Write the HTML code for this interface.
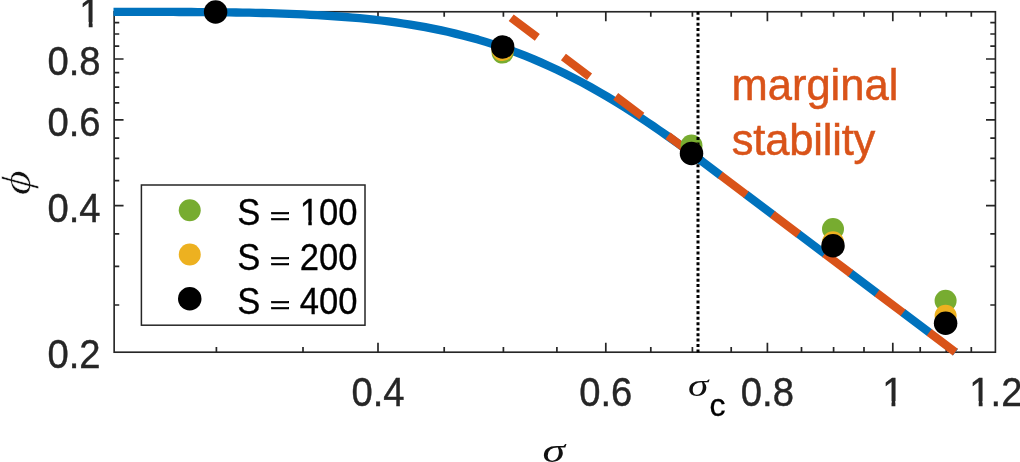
<!DOCTYPE html>
<html><head><meta charset="utf-8"><title>phi vs sigma</title>
<style>
html,body{margin:0;padding:0;background:#fff}
svg{display:block}
text{font-family:"Liberation Sans",sans-serif;fill:#262626}
.t{font-size:38.2px;stroke:#262626;stroke-width:0.4px}
.l{font-size:34.6px;fill:#000;stroke:#000;stroke-width:0.3px;white-space:pre}
.e{stroke-width:1.0px}
.a{font-size:43.5px;fill:#D95319;stroke:#D95319;stroke-width:0.5px}
.s{font-size:37.5px;fill:#111}
.m{font-family:"Liberation Serif","DejaVu Serif",serif;font-style:italic}
</style></head><body>
<svg width="1020" height="462" viewBox="0 0 1020 462">
<rect width="1020" height="462" fill="#fff"/>
<path d="M378.0,352.2v-9.4M378.0,11.76v9.4M605.8,352.2v-9.4M605.8,11.76v9.4M767.4,352.2v-9.4M767.4,11.76v9.4M892.8,352.2v-9.4M892.8,11.76v9.4M216.4,352.2v-5.1M216.4,11.76v5.1M303.0,352.2v-5.1M303.0,11.76v5.1M444.2,352.2v-5.1M444.2,11.76v5.1M503.4,352.2v-5.1M503.4,11.76v5.1M556.9,352.2v-5.1M556.9,11.76v5.1M650.8,352.2v-5.1M650.8,11.76v5.1M692.4,352.2v-5.1M692.4,11.76v5.1M731.2,352.2v-5.1M731.2,11.76v5.1M801.5,352.2v-5.1M801.5,11.76v5.1M833.6,352.2v-5.1M833.6,11.76v5.1M864.0,352.2v-5.1M864.0,11.76v5.1M920.2,352.2v-5.1M920.2,11.76v5.1M946.3,352.2v-5.1M946.3,11.76v5.1M971.3,352.2v-5.1M971.3,11.76v5.1M114.15,205.6h9.4M995.4,205.6h-9.4M114.15,119.8h9.4M995.4,119.8h-9.4M114.15,59.0h9.4M995.4,59.0h-9.4M114.15,305.0h5.1M995.4,305.0h-5.1M114.15,266.4h5.1M995.4,266.4h-5.1M114.15,233.8h5.1M995.4,233.8h-5.1M114.15,180.7h5.1M995.4,180.7h-5.1M114.15,158.4h5.1M995.4,158.4h-5.1M114.15,138.2h5.1M995.4,138.2h-5.1M114.15,102.9h5.1M995.4,102.9h-5.1M114.15,87.2h5.1M995.4,87.2h-5.1M114.15,72.6h5.1M995.4,72.6h-5.1M114.15,46.1h5.1M995.4,46.1h-5.1M114.15,34.0h5.1M995.4,34.0h-5.1M114.15,22.6h5.1M995.4,22.6h-5.1" stroke="#262626" stroke-width="1.7" fill="none"/>
<rect x="114.15" y="11.76" width="881.25" height="340.44" fill="none" stroke="#262626" stroke-width="1.65"/>
<polyline points="113.5,11.8 121.8,11.8 129.4,11.8 137.2,11.8 145.0,11.8 152.9,11.9 160.9,11.9 166.9,11.9 173.0,11.9 179.1,12.0 185.3,12.0 191.5,12.0 197.7,12.1 204.0,12.1 210.3,12.2 216.7,12.3 223.1,12.3 229.6,12.4 236.1,12.5 242.6,12.6 249.2,12.7 255.8,12.9 262.5,13.0 269.2,13.2 275.9,13.4 282.7,13.6 289.5,13.9 296.4,14.1 303.3,14.4 310.2,14.8 317.2,15.1 324.2,15.5 331.2,16.0 338.2,16.5 345.3,17.0 352.5,17.6 359.6,18.2 366.8,18.9 374.0,19.7 381.2,20.5 388.5,21.4 395.8,22.4 403.1,23.5 410.5,24.6 417.9,25.8 425.3,27.2 432.7,28.6 440.2,30.1 447.7,31.8 455.3,33.6 462.8,35.5 470.4,37.5 478.1,39.6 485.7,41.9 493.5,44.4 501.2,46.9 509.0,49.7 516.9,52.6 524.8,55.7 532.7,58.9 540.8,62.4 548.8,66.0 557.0,69.8 565.2,73.8 573.5,78.0 581.9,82.4 590.4,87.0 598.9,91.8 607.6,96.9 616.4,102.2 625.3,107.7 634.3,113.5 640.4,117.5 646.5,121.6 652.7,125.8 659.0,130.1 665.3,134.5 671.7,139.0 678.2,143.7 684.7,148.5 691.4,153.4 698.1,158.4 701.9,161.3" fill="none" stroke="#0072BD" stroke-width="8.3" stroke-linejoin="round"/>
<line x1="698.07" y1="158.38" x2="955.45" y2="352.20" stroke="#0072BD" stroke-width="8.3" stroke-dasharray="28.58 30.90 34.50 30.90 34.50 30.90 34.50 30.90 34.50 30.90"/>
<line x1="511.2" y1="17.7" x2="958.5" y2="354.5" stroke="#D95319" stroke-width="8.3" stroke-dasharray="32.7 32.7"/>
<circle cx="502.6" cy="52.6" r="11" fill="#77AC30"/><circle cx="691.5" cy="145.6" r="11" fill="#77AC30"/><circle cx="833" cy="229" r="11" fill="#77AC30"/><circle cx="945.6" cy="300.7" r="11" fill="#77AC30"/>
<line x1="698" y1="11.76" x2="698" y2="352.2" stroke="#000" stroke-width="3.0" stroke-dasharray="3.0 2.447"/>
<circle cx="502.6" cy="50.1" r="11" fill="#EDB120"/><circle cx="691.5" cy="153" r="11" fill="#EDB120"/><circle cx="833" cy="242.2" r="11" fill="#EDB120"/><circle cx="945.6" cy="315.7" r="11" fill="#EDB120"/>
<circle cx="215.6" cy="12" r="11.75" fill="#000"/><circle cx="502.7" cy="46.9" r="11.75" fill="#000"/><circle cx="691.5" cy="153.4" r="11.75" fill="#000"/><circle cx="833" cy="245.7" r="11.75" fill="#000"/><circle cx="945.6" cy="323.2" r="11.75" fill="#000"/>
<rect x="141.4" y="185" width="223.6" height="140.2" fill="#fff" stroke="#262626" stroke-width="1.5"/>
<circle cx="189.75" cy="210.2" r="11" fill="#77AC30"/>
<circle cx="189.75" cy="254.5" r="11" fill="#EDB120"/>
<circle cx="189.75" cy="298.8" r="11.75" fill="#000"/>
<text class="l" transform="translate(237.30,224.5) scale(1,1.05)">S </text><text class="l e" transform="translate(269.99,223.80) scale(1,0.68)">= </text><text class="l" transform="translate(299.81,224.5) scale(1,1.05)">100</text>
<text class="l" transform="translate(237.30,269.6) scale(1,1.05)">S </text><text class="l e" transform="translate(269.99,268.90) scale(1,0.68)">= </text><text class="l" transform="translate(299.81,269.6) scale(1,1.05)">200</text>
<text class="l" transform="translate(237.30,313.7) scale(1,1.05)">S </text><text class="l e" transform="translate(269.99,313.00) scale(1,0.68)">= </text><text class="l" transform="translate(299.81,313.7) scale(1,1.05)">400</text>
<text class="a" x="731.5" y="100">marginal</text>
<text class="a" x="731.7" y="155" letter-spacing="-0.18">stability</text>
<text class="t" transform="translate(100.6,26.5) scale(1,1.04)" text-anchor="end">1</text>
<text class="t" transform="translate(100.6,74.9) scale(1,1.04)" text-anchor="end">0.8</text>
<text class="t" transform="translate(100.6,135.7) scale(1,1.04)" text-anchor="end">0.6</text>
<text class="t" transform="translate(100.6,221.5) scale(1,1.04)" text-anchor="end">0.4</text>
<text class="t" transform="translate(100.6,368.1) scale(1,1.04)" text-anchor="end">0.2</text>
<text class="t" transform="translate(378.0,405.6) scale(1,1.04)" text-anchor="middle">0.4</text>
<text class="t" transform="translate(605.8,405.6) scale(1,1.04)" text-anchor="middle">0.6</text>
<text class="t" transform="translate(767.4,405.6) scale(1,1.04)" text-anchor="middle">0.8</text>
<text class="t" transform="translate(892.8,405.6) scale(1,1.04)" text-anchor="middle">1</text>
<text class="t" transform="translate(995.9,405.6) scale(1,1.04)" text-anchor="middle">1.2</text>
<text class="m s" transform="translate(688,396.2) scale(1.1,0.83)">σ</text>
<text class="l" x="709.6" y="415.5" style="font-size:32px">c</text>
<text class="m s" transform="translate(542.4,461.6) scale(1.22,0.92)">σ</text>
<text class="m s" transform="translate(29.9,183.2) rotate(-90) scale(1.26,1.09) skewX(-3.2)" text-anchor="middle" stroke="#fff" stroke-width="0.45">ϕ</text>
<rect x="80.66" y="21.89" width="8.05" height="6.97" fill="#fff"/><rect x="92.59" y="21.89" width="7.85" height="6.97" fill="#fff"/><rect x="883.46" y="401.03" width="8.05" height="6.97" fill="#fff"/><rect x="895.38" y="401.03" width="7.85" height="6.97" fill="#fff"/><rect x="970.65" y="401.03" width="8.05" height="6.97" fill="#fff"/><rect x="982.58" y="401.03" width="7.85" height="6.97" fill="#fff"/><rect x="300.99" y="220.24" width="7.32" height="6.61" fill="#fff"/><rect x="311.77" y="220.24" width="7.13" height="6.61" fill="#fff"/>
</svg>
</body></html>
